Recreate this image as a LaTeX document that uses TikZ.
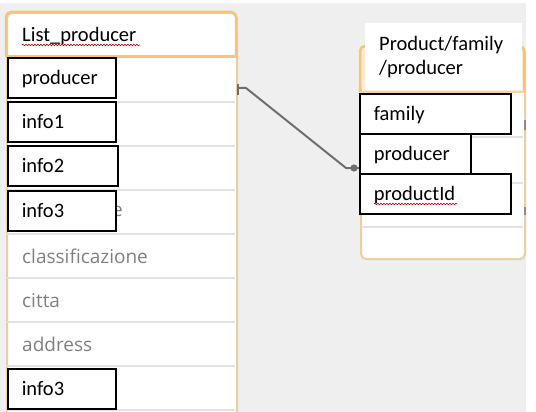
\documentclass[tikz,border=0pt]{standalone}
\usepackage{fontspec}
\setmainfont{Carlito}
\newfontfamily\uifont{Open Sans}
\usepackage{tikz}
\usetikzlibrary{positioning}
\usetikzlibrary{calc}
\usetikzlibrary{decorations.pathmorphing}

\definecolor{bggray}{RGB}{239,239,239}
\definecolor{tanframe}{RGB}{234,206,168}
\definecolor{headorange}{RGB}{246,194,124}
\definecolor{headcream}{RGB}{252,236,214}
\definecolor{sepgray}{RGB}{226,226,226}
\definecolor{textgray}{RGB}{128,128,128}
\definecolor{linkgray}{RGB}{110,110,110}

\tikzset{
  fieldbox/.style={draw=black, line width=1.6pt, fill=white, anchor=north west,
    minimum height=40pt, inner xsep=14pt, inner ysep=0pt,
    text height=18pt, text depth=4pt, align=left,
    font=\fontsize{20.5}{24}\selectfont},
  greyfield/.style={anchor=base west, inner sep=0pt, text=textgray,
    font=\uifont\fontsize{19}{23}\selectfont},
  tabframe/.style={draw=tanframe, line width=2pt, fill=white, rounded corners=5pt,
    anchor=north west},
  rowline/.style={sepgray, line width=1.2pt},
  link/.style={linkgray, line width=2pt},
  spell/.style={red!75!black, line width=0.6pt, decorate,
    decoration={snake, amplitude=0.8pt, segment length=3pt}},
}

\begin{document}
\begin{tikzpicture}[x=1pt, y=-1pt]
    \useasboundingbox (0,0) rectangle (536,412);
    \clip (0,0) rectangle (536,412);
    \fill[bggray] (0,3) rectangle (526,412);

    % List_producer table
    \node[tabframe, minimum width=230pt, minimum height=420pt] (listtab) at (6,12) {};
    \draw[headorange, line width=2.5pt, rounded corners=5pt] (6,57) -- (6,12) -- (236,12) -- (236,57);
    \draw[headorange, line width=3pt] (6,57) -- (236,57);
    \node[anchor=base west, inner sep=0pt, font=\fontsize{20.5}{24}\selectfont] (listname) at (22,42) {List\_producer};
    \draw[spell] (22,45) -- (140,45);
    \foreach \y in {102,146,190,234,278,322,366,410}
        \draw[rowline] (7,\y) -- (235,\y);

    \node[greyfield] (hidden) at (112,216) {e};
    \node[greyfield] (classif) at (22,263) {classificazione};
    \node[greyfield] (citta) at (22,307) {citta};
    \node[greyfield] (address) at (22,351) {address};

    % Product/family/producer table
    \node[tabframe, minimum width=164pt, minimum height=212pt] (prodtab) at (360,46) {};
    \fill[headcream, rounded corners=5pt] (361,47) rectangle (523,92);
    \draw[headorange, line width=2.5pt, rounded corners=5pt] (360,92) -- (360,46) -- (524,46) -- (524,92);
    \draw[headorange!70, line width=1.5pt] (360,92) -- (524,92);
    \foreach \y in {137,183,227}
        \draw[rowline] (361,\y) -- (523,\y);
    \draw[linkgray!80, line width=2pt] (525,120) -- (525,130);
    \draw[linkgray!80, line width=2pt] (525,207) -- (525,215);

    % relation
    \coordinate (lfoot) at (238,88);
    \coordinate (rfoot) at (359,168);
    \draw[link] (lfoot) -- ++(8,0) -- ($(rfoot)+(-13,0)$) -- (rfoot);
    \draw[linkgray, line width=2.5pt] (238,84) -- (238,95);
    \fill[linkgray] (354,168) circle (3.6pt);

    % overlay fields
    \node[fieldbox, text width=80pt] (producerL) at (7,57) {producer};
    \node[fieldbox, text width=80pt] (infoA) at (7,101) {info1};
    \node[fieldbox, text width=82pt] (infoB) at (7,145) {info2};
    \node[fieldbox, text width=80pt] (infoC) at (7,190) {info3};
    \node[fieldbox, text width=80pt] (infoD) at (7,368) {info3};

    \node[fill=white, anchor=north west, minimum width=157pt, minimum height=67pt,
      inner xsep=14pt, text width=129pt, align=left,
      font=\fontsize{20.5}{24}\selectfont] (prodhead) at (365,23) {Product/family\\/producer};
    \node[fieldbox, text width=123pt] (familyR) at (359,93) {family};
    \node[fieldbox, text width=83pt] (producerR) at (359,133) {producer};
    \node[fieldbox, text width=123pt] (productR) at (359,173) {productId};
    \draw[spell] (374,204) -- (457,204);
\end{tikzpicture}
\end{document}
